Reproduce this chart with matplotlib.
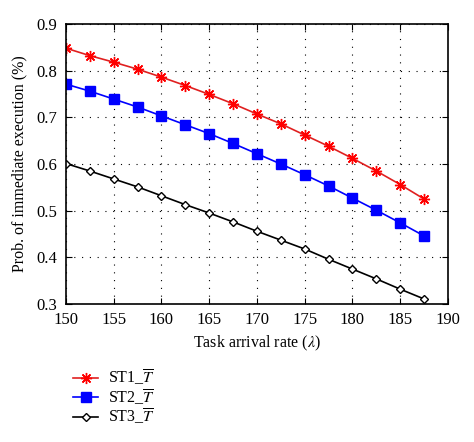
import numpy as np
import matplotlib
matplotlib.use("Agg")
import matplotlib.pyplot as plt

plt.rcParams["font.family"] = "Liberation Serif"
plt.rcParams["mathtext.fontset"] = "stix"

# Data
arrival_rate = [150, 152.5, 155, 157.5, 160, 162.5, 165, 167.5, 170,
                172.5, 175, 177.5, 180, 182.5, 185, 187.5]
st1 = [0.848, 0.832, 0.818, 0.803, 0.786, 0.768, 0.749, 0.729, 0.707,
       0.686, 0.662, 0.638, 0.612, 0.585, 0.556, 0.525]
st2 = [0.771, 0.756, 0.739, 0.722, 0.703, 0.684, 0.665, 0.644, 0.622,
       0.600, 0.577, 0.553, 0.527, 0.501, 0.474, 0.446]
st3 = [0.601, 0.585, 0.568, 0.551, 0.532, 0.513, 0.495, 0.476, 0.456,
       0.437, 0.418, 0.396, 0.375, 0.354, 0.332, 0.311]
labels = [r"ST1_$\overline{T}$", r"ST2_$\overline{T}$", r"ST3_$\overline{T}$"]

fig = plt.figure(figsize=(4.74, 4.42), dpi=100)
ax = fig.add_axes([0.139, 0.312, 0.806, 0.634])

l1, = ax.plot(arrival_rate, st1, color="#e02020", lw=1.2, marker=(8, 2, 0),
              markersize=8, markeredgewidth=1.0, markeredgecolor="#ff0000")
l2, = ax.plot(arrival_rate, st2, color="#0000ff", lw=1.2, marker="s",
              markersize=6.5, markerfacecolor="#0000ff", markeredgecolor="#0000ff")
l3, = ax.plot(arrival_rate, st3, color="black", lw=1.2, marker="D",
              markersize=4.5, markerfacecolor="white", markeredgecolor="black")

ax.set_xlim(150, 190)
ax.set_ylim(0.3, 0.9)
ax.set_xticks(np.arange(150, 191, 5))
ax.set_yticks(np.arange(0.3, 0.91, 0.1))
ax.set_yticklabels(["0.3", "0.4", "0.5", "0.6", "0.7", "0.8", "0.9"])
ax.tick_params(direction="in", labelsize=12, length=4, pad=6, top=True, right=True)
ax.grid(True, color="black", linestyle=(0, (1, 6)), linewidth=0.8)
for sp in ax.spines.values():
    sp.set_linewidth(1.2)

ax.set_xlabel(r"Task arrival rate ($\lambda$)", fontsize=11.5, labelpad=4)
ax.set_ylabel("Prob. of immediate execution (%)", fontsize=11.5, labelpad=7)

fig.legend([l1, l2, l3], labels, loc="upper left", bbox_to_anchor=(0.14, 0.183),
           frameon=False, fontsize=11.5, handlelength=1.6, labelspacing=0.0,
           handletextpad=0.6, borderaxespad=0)

fig.savefig("out.png", dpi=100)
